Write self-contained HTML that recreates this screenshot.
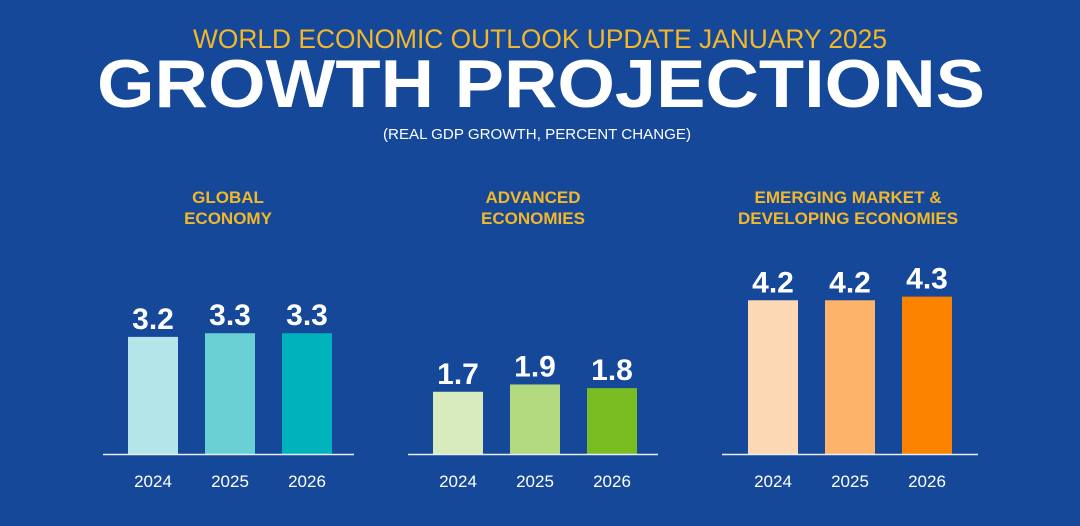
<!DOCTYPE html>
<html><head><meta charset="utf-8"><style>
html,body{margin:0;padding:0;background:#16489a;}
svg{display:block;font-family:"Liberation Sans",sans-serif;}
</style></head><body>
<svg id="chart" width="1080" height="526" viewBox="0 0 1080 526">
<rect width="1080" height="526" fill="#16489a"/>
<text x="540" y="48" text-anchor="middle" fill="#f2b829" font-size="27" textLength="694" lengthAdjust="spacingAndGlyphs">WORLD ECONOMIC OUTLOOK UPDATE JANUARY 2025</text>
<text x="541" y="107" text-anchor="middle" fill="#ffffff" font-size="68" font-weight="bold" textLength="888" lengthAdjust="spacingAndGlyphs">GROWTH PROJECTIONS</text>
<text x="537" y="139" text-anchor="middle" fill="#ffffff" font-size="15" textLength="308" lengthAdjust="spacingAndGlyphs">(REAL GDP GROWTH, PERCENT CHANGE)</text>
<g id="panels"></g>
</svg>
<script>
const years = ["2024","2025","2026"];
const globalValues = [3.2, 3.3, 3.3];
const advancedValues = [1.7, 1.9, 1.8];
const emergingValues = [4.2, 4.2, 4.3];
const panelTitles = [["GLOBAL","ECONOMY"],["ADVANCED","ECONOMIES"],["EMERGING MARKET &","DEVELOPING ECONOMIES"]];

const NS = "http://www.w3.org/2000/svg";
const g = document.getElementById("panels");
const baseY = 454, unit = 36.6;
function y(v){ return baseY - v*unit; }
const panels = [
 {vals: globalValues, x0:128, axis:[103,354], cx:228, colors:["#b4e6e9","#6ad0d4","#00b2bc"], name:"global"},
 {vals: advancedValues, x0:433, axis:[408,658], cx:533, colors:["#d7ebbe","#b3d97f","#7abd22"], name:"advanced"},
 {vals: emergingValues, x0:748, axis:[722,978], cx:848, colors:["#fdd8b4","#fdb36a","#fb8300"], name:"emerging"}
];
function mk(tag, attrs, text){
  const e = document.createElementNS(NS, tag);
  for (const k in attrs) e.setAttribute(k, attrs[k]);
  if (text !== undefined) e.textContent = text;
  g.appendChild(e);
  return e;
}
panels.forEach((p, pi) => {
  panelTitles[pi].forEach((line, li) => {
    const t = mk("text", {x:p.cx, y:203+li*21, "text-anchor":"middle", fill:"#f2b829", "font-size":"17", "font-weight":"bold"}, line);
    
    
  });
  p.vals.forEach((v, i) => {
    const bx = p.x0 + i*77;
    const r = mk("rect", {x:bx, y:y(v), width:50, height:baseY - y(v), fill:p.colors[i]});
    
    
    const vl = mk("text", {x:bx+25, y:y(v)-8, "text-anchor":"middle", fill:"#fff", "font-size":"30", "font-weight":"bold"}, v.toFixed(1));
    
    
    const yl = mk("text", {x:bx+25, y:487, "text-anchor":"middle", fill:"#fff", "font-size":"17"}, years[i]);
    
    
  });
  const ax = mk("line", {x1:p.axis[0], x2:p.axis[1], y1:baseY+0.5, y2:baseY+0.5, stroke:"#e8eef8", "stroke-width":"1.5"});
  
  
});
</script>
</body></html>
